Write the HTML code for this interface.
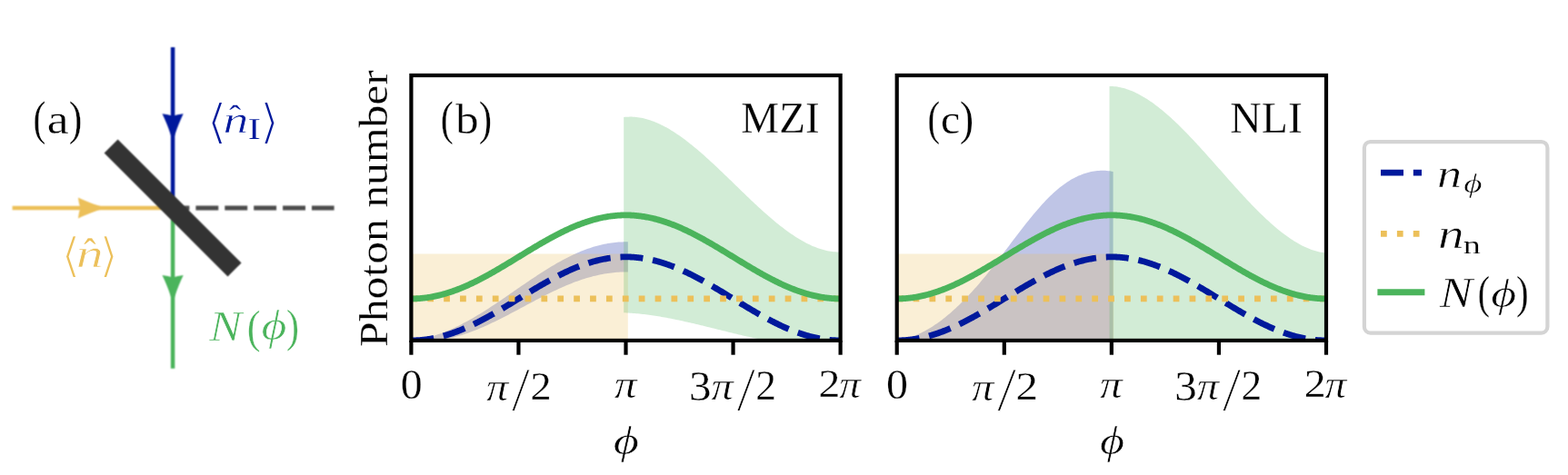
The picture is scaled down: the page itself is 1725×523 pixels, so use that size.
<!DOCTYPE html><html><head><meta charset="utf-8"><title>Photon number MZI NLI</title><style>html,body{margin:0;padding:0;background:#fff;overflow:hidden}svg{display:block}</style></head><body>
<svg width="1725" height="523" viewBox="0 0 1725 523">
<rect width="1725" height="523" fill="#fff"/>
<defs><filter id="soft" color-interpolation-filters="sRGB" filterUnits="userSpaceOnUse" x="0" y="30" width="390" height="400"><feConvolveMatrix order="3" kernelMatrix="1 2 1 2 4 2 1 2 1" divisor="16" edgeMode="none" preserveAlpha="false"/></filter></defs>
<g filter="url(#soft)">
<line x1="13.6" y1="229.00" x2="190.10" y2="229.00" stroke="#ecc05a" stroke-width="4.50"/>
<path d="M85.90,217.60 Q86.50,223.87 88.40,229.00 Q86.50,234.13 85.90,240.40 Q110.20,229.05 122.90,229.00 Q110.20,228.95 85.90,217.60 Z" fill="#ecc05a"/>
<line x1="190.10" y1="51.9" x2="190.10" y2="229.00" stroke="#00199c" stroke-width="4.50"/>
<path d="M178.50,125.30 Q184.88,125.90 190.10,127.80 Q195.32,125.90 201.70,125.30 Q190.15,149.60 190.10,162.30 Q190.05,149.60 178.50,125.30 Z" fill="#00199c"/>
<line x1="190.10" y1="229.00" x2="190.10" y2="405.7" stroke="#4bb45c" stroke-width="4.50"/>
<path d="M178.50,302.90 Q184.88,303.50 190.10,305.40 Q195.32,303.50 201.70,302.90 Q190.15,327.20 190.10,339.90 Q190.05,327.20 178.50,302.90 Z" fill="#4bb45c"/>
<line x1="183.5" y1="229.00" x2="367.6" y2="229.00" stroke="#4d4d4d" stroke-width="5.0" stroke-dasharray="24.9 7.0"/>
<rect x="94.00" y="218.40" width="192.2" height="21.2" fill="#333333" transform="rotate(45 190.10 229.00)"/>
</g>
<clipPath id="clipb"><rect x="452.40" y="83.00" width="472.20" height="291.90"/></clipPath>
<g clip-path="url(#clipb)">
<path d="M449.40,374.90 L452.40,374.90 L454.38,374.67 L456.37,374.40 L458.35,374.10 L460.34,373.77 L462.32,373.41 L464.30,373.01 L466.29,372.59 L468.27,372.13 L470.26,371.64 L472.24,371.12 L474.22,370.57 L476.21,369.99 L478.19,369.38 L480.18,368.75 L482.16,368.08 L484.14,367.38 L486.13,366.65 L488.11,365.90 L490.10,365.12 L492.08,364.31 L494.06,363.47 L496.05,362.61 L498.03,361.72 L500.02,360.80 L502.00,359.86 L503.98,358.90 L505.97,357.91 L507.95,356.90 L509.94,355.87 L511.92,354.81 L513.91,353.74 L515.89,352.64 L517.87,351.52 L519.86,350.38 L521.84,349.23 L523.83,348.05 L525.81,346.86 L527.79,345.65 L529.78,344.43 L531.76,343.19 L533.75,341.94 L535.73,340.67 L537.71,339.39 L539.70,338.10 L541.68,336.80 L543.67,335.48 L545.65,334.16 L547.63,332.83 L549.62,331.49 L551.60,330.15 L553.59,328.79 L555.57,327.44 L557.55,326.07 L559.54,324.71 L561.52,323.34 L563.51,321.97 L565.49,320.60 L567.47,319.23 L569.46,317.85 L571.44,316.49 L573.43,315.12 L575.41,313.76 L577.39,312.40 L579.38,311.04 L581.36,309.69 L583.35,308.35 L585.33,307.02 L587.31,305.69 L589.30,304.38 L591.28,303.07 L593.27,301.78 L595.25,300.50 L597.23,299.23 L599.22,297.97 L601.20,296.73 L603.19,295.50 L605.17,294.29 L607.15,293.10 L609.14,291.92 L611.12,290.76 L613.11,289.62 L615.09,288.51 L617.07,287.41 L619.06,286.33 L621.04,285.27 L623.03,284.24 L625.01,283.23 L626.99,282.24 L628.98,281.28 L630.96,280.35 L632.95,279.44 L634.93,278.55 L636.92,277.70 L638.90,276.87 L640.88,276.07 L642.87,275.29 L644.85,274.55 L646.84,273.83 L648.82,273.15 L650.80,272.50 L652.79,271.87 L654.77,271.28 L656.76,270.72 L658.74,270.20 L660.72,269.70 L662.71,269.24 L664.69,268.81 L666.68,268.41 L668.66,268.05 L670.64,267.72 L672.63,267.43 L674.61,267.17 L676.60,266.94 L678.58,266.75 L680.56,266.59 L682.55,266.47 L684.53,266.38 L686.52,266.33 L688.50,266.31 L690.80,266.31 L690.80,299.49 L688.50,299.49 L686.52,299.50 L684.53,299.55 L682.55,299.62 L680.56,299.72 L678.58,299.85 L676.60,300.01 L674.61,300.20 L672.63,300.42 L670.64,300.66 L668.66,300.94 L666.68,301.24 L664.69,301.57 L662.71,301.93 L660.72,302.31 L658.74,302.72 L656.76,303.16 L654.77,303.63 L652.79,304.12 L650.80,304.64 L648.82,305.18 L646.84,305.75 L644.85,306.34 L642.87,306.95 L640.88,307.59 L638.90,308.25 L636.92,308.94 L634.93,309.65 L632.95,310.37 L630.96,311.12 L628.98,311.89 L626.99,312.68 L625.01,313.49 L623.03,314.32 L621.04,315.17 L619.06,316.03 L617.07,316.91 L615.09,317.80 L613.11,318.72 L611.12,319.64 L609.14,320.58 L607.15,321.53 L605.17,322.50 L603.19,323.48 L601.20,324.47 L599.22,325.47 L597.23,326.47 L595.25,327.49 L593.27,328.52 L591.28,329.55 L589.30,330.59 L587.31,331.63 L585.33,332.68 L583.35,333.74 L581.36,334.79 L579.38,335.85 L577.39,336.91 L575.41,337.98 L573.43,339.04 L571.44,340.10 L569.46,341.16 L567.47,342.22 L565.49,343.27 L563.51,344.32 L561.52,345.36 L559.54,346.40 L557.55,347.44 L555.57,348.46 L553.59,349.48 L551.60,350.49 L549.62,351.49 L547.63,352.47 L545.65,353.45 L543.67,354.41 L541.68,355.37 L539.70,356.30 L537.71,357.23 L535.73,358.14 L533.75,359.03 L531.76,359.91 L529.78,360.77 L527.79,361.61 L525.81,362.43 L523.83,363.23 L521.84,364.02 L519.86,364.78 L517.87,365.52 L515.89,366.24 L513.91,366.94 L511.92,367.61 L509.94,368.26 L507.95,368.89 L505.97,369.49 L503.98,370.06 L502.00,370.62 L500.02,371.14 L498.03,371.64 L496.05,372.11 L494.06,372.55 L492.08,372.96 L490.10,373.35 L488.11,373.71 L486.13,374.04 L484.14,374.33 L482.16,374.60 L480.18,374.84 L478.19,375.05 L476.21,375.23 L474.22,375.37 L472.24,375.49 L470.26,375.57 L468.27,375.63 L466.29,375.65 L464.30,375.64 L462.32,375.59 L460.34,375.52 L458.35,375.41 L456.37,375.27 L454.38,375.10 L452.40,374.90 L449.40,374.90 Z" fill="#00199c" fill-opacity="0.250"/>
<path d="M449.40,279.60 H690.80 V384.90 H449.40 Z" fill="#ecc05a" fill-opacity="0.250"/>
<path d="M686.20,129.05 L687.94,128.86 L689.67,128.72 L691.41,128.63 L693.15,128.60 L694.88,128.62 L696.62,128.68 L698.36,128.80 L700.09,128.97 L701.83,129.18 L703.57,129.44 L705.30,129.75 L707.04,130.10 L708.78,130.50 L710.51,130.94 L712.25,131.43 L713.99,131.96 L715.72,132.53 L717.46,133.14 L719.20,133.79 L720.93,134.48 L722.67,135.21 L724.41,135.98 L726.14,136.79 L727.88,137.63 L729.62,138.51 L731.35,139.42 L733.09,140.37 L734.83,141.35 L736.56,142.36 L738.30,143.41 L740.04,144.48 L741.77,145.59 L743.51,146.72 L745.25,147.89 L746.98,149.08 L748.72,150.30 L750.46,151.55 L752.19,152.82 L753.93,154.12 L755.67,155.44 L757.40,156.78 L759.14,158.15 L760.88,159.54 L762.61,160.95 L764.35,162.38 L766.09,163.83 L767.82,165.30 L769.56,166.79 L771.30,168.29 L773.03,169.81 L774.77,171.35 L776.51,172.90 L778.24,174.47 L779.98,176.04 L781.72,177.64 L783.45,179.24 L785.19,180.85 L786.93,182.48 L788.66,184.11 L790.40,185.75 L792.14,187.40 L793.87,189.06 L795.61,190.73 L797.35,192.40 L799.08,194.07 L800.82,195.75 L802.56,197.43 L804.29,199.12 L806.03,200.80 L807.77,202.49 L809.51,204.18 L811.24,205.87 L812.98,207.55 L814.72,209.24 L816.45,210.92 L818.19,212.60 L819.93,214.27 L821.66,215.94 L823.40,217.60 L825.14,219.26 L826.87,220.90 L828.61,222.54 L830.35,224.17 L832.08,225.80 L833.82,227.41 L835.56,229.01 L837.29,230.59 L839.03,232.17 L840.77,233.73 L842.50,235.27 L844.24,236.81 L845.98,238.32 L847.71,239.82 L849.45,241.30 L851.19,242.76 L852.92,244.21 L854.66,245.63 L856.40,247.03 L858.13,248.42 L859.87,249.78 L861.61,251.11 L863.34,252.43 L865.08,253.72 L866.82,254.98 L868.55,256.22 L870.29,257.43 L872.03,258.61 L873.76,259.77 L875.50,260.90 L877.24,261.99 L878.97,263.06 L880.71,264.09 L882.45,265.09 L884.18,266.06 L885.92,267.00 L887.66,267.90 L889.39,268.77 L891.13,269.60 L892.87,270.39 L894.60,271.15 L896.34,271.87 L898.08,272.54 L899.81,273.18 L901.55,273.78 L903.29,274.34 L905.02,274.85 L906.76,275.32 L908.50,275.75 L910.23,276.14 L911.97,276.47 L913.71,276.77 L915.44,277.01 L917.18,277.21 L918.92,277.36 L920.65,277.46 L922.39,277.51 L924.13,277.51 L925.86,277.46 L927.60,277.36 L927.60,379.52 L925.86,379.74 L924.13,379.94 L922.39,380.13 L920.65,380.30 L918.92,380.46 L917.18,380.60 L915.44,380.72 L913.71,380.83 L911.97,380.92 L910.23,381.00 L908.50,381.07 L906.76,381.12 L905.02,381.15 L903.29,381.18 L901.55,381.19 L899.81,381.18 L898.08,381.16 L896.34,381.13 L894.60,381.09 L892.87,381.03 L891.13,380.96 L889.39,380.88 L887.66,380.79 L885.92,380.69 L884.18,380.57 L882.45,380.44 L880.71,380.30 L878.97,380.15 L877.24,379.99 L875.50,379.82 L873.76,379.64 L872.03,379.45 L870.29,379.25 L868.55,379.04 L866.82,378.82 L865.08,378.59 L863.34,378.35 L861.61,378.10 L859.87,377.85 L858.13,377.58 L856.40,377.31 L854.66,377.03 L852.92,376.74 L851.19,376.44 L849.45,376.14 L847.71,375.83 L845.98,375.51 L844.24,375.19 L842.50,374.85 L840.77,374.52 L839.03,374.17 L837.29,373.82 L835.56,373.47 L833.82,373.11 L832.08,372.74 L830.35,372.37 L828.61,371.99 L826.87,371.61 L825.14,371.23 L823.40,370.84 L821.66,370.44 L819.93,370.04 L818.19,369.64 L816.45,369.24 L814.72,368.83 L812.98,368.42 L811.24,368.00 L809.51,367.59 L807.77,367.17 L806.03,366.75 L804.29,366.32 L802.56,365.90 L800.82,365.47 L799.08,365.05 L797.35,364.62 L795.61,364.19 L793.87,363.76 L792.14,363.32 L790.40,362.89 L788.66,362.46 L786.93,362.03 L785.19,361.60 L783.45,361.17 L781.72,360.74 L779.98,360.31 L778.24,359.88 L776.51,359.45 L774.77,359.03 L773.03,358.61 L771.30,358.19 L769.56,357.77 L767.82,357.35 L766.09,356.94 L764.35,356.52 L762.61,356.12 L760.88,355.71 L759.14,355.31 L757.40,354.91 L755.67,354.52 L753.93,354.13 L752.19,353.74 L750.46,353.36 L748.72,352.98 L746.98,352.61 L745.25,352.24 L743.51,351.88 L741.77,351.53 L740.04,351.18 L738.30,350.83 L736.56,350.49 L734.83,350.16 L733.09,349.84 L731.35,349.52 L729.62,349.21 L727.88,348.90 L726.14,348.61 L724.41,348.32 L722.67,348.04 L720.93,347.76 L719.20,347.50 L717.46,347.24 L715.72,346.99 L713.99,346.75 L712.25,346.52 L710.51,346.30 L708.78,346.09 L707.04,345.89 L705.30,345.70 L703.57,345.51 L701.83,345.34 L700.09,345.18 L698.36,345.03 L696.62,344.89 L694.88,344.76 L693.15,344.65 L691.41,344.54 L689.67,344.45 L687.94,344.37 L686.20,344.30 Z" fill="#4bb45c" fill-opacity="0.250"/>
<polyline points="452.40,374.90 453.58,374.89 454.77,374.88 455.95,374.85 457.13,374.81 458.32,374.76 459.50,374.69 460.68,374.62 461.87,374.54 463.05,374.44 464.23,374.33 465.42,374.21 466.60,374.08 467.78,373.94 468.97,373.79 470.15,373.62 471.34,373.45 472.52,373.26 473.70,373.06 474.89,372.86 476.07,372.64 477.25,372.41 478.44,372.17 479.62,371.92 480.80,371.65 481.99,371.38 483.17,371.10 484.35,370.80 485.54,370.50 486.72,370.19 487.90,369.86 489.09,369.53 490.27,369.18 491.45,368.83 492.64,368.46 493.82,368.09 495.00,367.70 496.19,367.31 497.37,366.91 498.55,366.49 499.74,366.07 500.92,365.64 502.11,365.20 503.29,364.75 504.47,364.29 505.66,363.83 506.84,363.35 508.02,362.87 509.21,362.37 510.39,361.87 511.57,361.36 512.76,360.85 513.94,360.32 515.12,359.79 516.31,359.25 517.49,358.70 518.67,358.14 519.86,357.58 521.04,357.01 522.22,356.43 523.41,355.85 524.59,355.26 525.77,354.66 526.96,354.06 528.14,353.45 529.32,352.83 530.51,352.21 531.69,351.59 532.88,350.95 534.06,350.31 535.24,349.67 536.43,349.02 537.61,348.37 538.79,347.71 539.98,347.05 541.16,346.38 542.34,345.71 543.53,345.03 544.71,344.35 545.89,343.66 547.08,342.98 548.26,342.29 549.44,341.59 550.63,340.89 551.81,340.19 552.99,339.49 554.18,338.78 555.36,338.07 556.54,337.36 557.73,336.65 558.91,335.93 560.09,335.22 561.28,334.50 562.46,333.78 563.65,333.06 564.83,332.34 566.01,331.61 567.20,330.89 568.38,330.17 569.56,329.44 570.75,328.72 571.93,327.99 573.11,327.27 574.30,326.55 575.48,325.82 576.66,325.10 577.85,324.38 579.03,323.66 580.21,322.94 581.40,322.22 582.58,321.51 583.76,320.79 584.95,320.08 586.13,319.37 587.31,318.66 588.50,317.96 589.68,317.26 590.86,316.56 592.05,315.86 593.23,315.17 594.42,314.48 595.60,313.79 596.78,313.11 597.97,312.43 599.15,311.76 600.33,311.09 601.52,310.42 602.70,309.76 603.88,309.10 605.07,308.45 606.25,307.81 607.43,307.17 608.62,306.53 609.80,305.90 610.98,305.28 612.17,304.66 613.35,304.04 614.53,303.44 615.72,302.84 616.90,302.24 618.08,301.66 619.27,301.08 620.45,300.50 621.63,299.94 622.82,299.38 624.00,298.83 625.18,298.28 626.37,297.75 627.55,297.22 628.74,296.69 629.92,296.18 631.10,295.68 632.29,295.18 633.47,294.69 634.65,294.21 635.84,293.74 637.02,293.28 638.20,292.82 639.39,292.38 640.57,291.94 641.75,291.52 642.94,291.10 644.12,290.69 645.30,290.29 646.49,289.90 647.67,289.52 648.85,289.15 650.04,288.79 651.22,288.44 652.40,288.10 653.59,287.77 654.77,287.46 655.95,287.15 657.14,286.85 658.32,286.56 659.51,286.28 660.69,286.01 661.87,285.76 663.06,285.51 664.24,285.28 665.42,285.05 666.61,284.84 667.79,284.64 668.97,284.44 670.16,284.26 671.34,284.09 672.52,283.94 673.71,283.79 674.89,283.65 676.07,283.53 677.26,283.41 678.44,283.31 679.62,283.22 680.81,283.14 681.99,283.07 683.17,283.02 684.36,282.97 685.54,282.94 686.72,282.91 687.91,282.90 689.09,282.90 690.28,282.91 691.46,282.94 692.64,282.97 693.83,283.02 695.01,283.07 696.19,283.14 697.38,283.22 698.56,283.31 699.74,283.41 700.93,283.53 702.11,283.65 703.29,283.79 704.48,283.94 705.66,284.09 706.84,284.26 708.03,284.44 709.21,284.64 710.39,284.84 711.58,285.05 712.76,285.28 713.94,285.51 715.13,285.76 716.31,286.01 717.49,286.28 718.68,286.56 719.86,286.85 721.05,287.15 722.23,287.46 723.41,287.77 724.60,288.10 725.78,288.44 726.96,288.79 728.15,289.15 729.33,289.52 730.51,289.90 731.70,290.29 732.88,290.69 734.06,291.10 735.25,291.52 736.43,291.94 737.61,292.38 738.80,292.82 739.98,293.28 741.16,293.74 742.35,294.21 743.53,294.69 744.71,295.18 745.90,295.68 747.08,296.18 748.26,296.69 749.45,297.22 750.63,297.75 751.82,298.28 753.00,298.83 754.18,299.38 755.37,299.94 756.55,300.50 757.73,301.08 758.92,301.66 760.10,302.24 761.28,302.84 762.47,303.44 763.65,304.04 764.83,304.66 766.02,305.28 767.20,305.90 768.38,306.53 769.57,307.17 770.75,307.81 771.93,308.45 773.12,309.10 774.30,309.76 775.48,310.42 776.67,311.09 777.85,311.76 779.03,312.43 780.22,313.11 781.40,313.79 782.58,314.48 783.77,315.17 784.95,315.86 786.14,316.56 787.32,317.26 788.50,317.96 789.69,318.66 790.87,319.37 792.05,320.08 793.24,320.79 794.42,321.51 795.60,322.22 796.79,322.94 797.97,323.66 799.15,324.38 800.34,325.10 801.52,325.82 802.70,326.55 803.89,327.27 805.07,327.99 806.25,328.72 807.44,329.44 808.62,330.17 809.80,330.89 810.99,331.61 812.17,332.34 813.35,333.06 814.54,333.78 815.72,334.50 816.91,335.22 818.09,335.93 819.27,336.65 820.46,337.36 821.64,338.07 822.82,338.78 824.01,339.49 825.19,340.19 826.37,340.89 827.56,341.59 828.74,342.29 829.92,342.98 831.11,343.66 832.29,344.35 833.47,345.03 834.66,345.71 835.84,346.38 837.02,347.05 838.21,347.71 839.39,348.37 840.57,349.02 841.76,349.67 842.94,350.31 844.12,350.95 845.31,351.59 846.49,352.21 847.68,352.83 848.86,353.45 850.04,354.06 851.23,354.66 852.41,355.26 853.59,355.85 854.78,356.43 855.96,357.01 857.14,357.58 858.33,358.14 859.51,358.70 860.69,359.25 861.88,359.79 863.06,360.32 864.24,360.85 865.43,361.36 866.61,361.87 867.79,362.37 868.98,362.87 870.16,363.35 871.34,363.83 872.53,364.29 873.71,364.75 874.89,365.20 876.08,365.64 877.26,366.07 878.45,366.49 879.63,366.91 880.81,367.31 882.00,367.70 883.18,368.09 884.36,368.46 885.55,368.83 886.73,369.18 887.91,369.53 889.10,369.86 890.28,370.19 891.46,370.50 892.65,370.80 893.83,371.10 895.01,371.38 896.20,371.65 897.38,371.92 898.56,372.17 899.75,372.41 900.93,372.64 902.11,372.86 903.30,373.06 904.48,373.26 905.66,373.45 906.85,373.62 908.03,373.79 909.22,373.94 910.40,374.08 911.58,374.21 912.77,374.33 913.95,374.44 915.13,374.54 916.32,374.62 917.50,374.69 918.68,374.76 919.87,374.81 921.05,374.85 922.23,374.88 923.42,374.89 924.60,374.90" fill="none" stroke="#00199c" stroke-width="6.80" stroke-dasharray="25.0 10.83" stroke-linejoin="round"/>
<line x1="452.40" y1="328.90" x2="924.60" y2="328.90" stroke="#ecc05a" stroke-width="6.80" stroke-dasharray="6.76 11.12"/>
<polyline points="452.40,328.90 453.58,328.89 454.77,328.88 455.95,328.85 457.13,328.81 458.32,328.76 459.50,328.69 460.68,328.62 461.87,328.54 463.05,328.44 464.23,328.33 465.42,328.21 466.60,328.08 467.78,327.94 468.97,327.79 470.15,327.62 471.34,327.45 472.52,327.26 473.70,327.06 474.89,326.86 476.07,326.64 477.25,326.41 478.44,326.17 479.62,325.92 480.80,325.65 481.99,325.38 483.17,325.10 484.35,324.80 485.54,324.50 486.72,324.19 487.90,323.86 489.09,323.53 490.27,323.18 491.45,322.83 492.64,322.46 493.82,322.09 495.00,321.70 496.19,321.31 497.37,320.91 498.55,320.49 499.74,320.07 500.92,319.64 502.11,319.20 503.29,318.75 504.47,318.29 505.66,317.83 506.84,317.35 508.02,316.87 509.21,316.37 510.39,315.87 511.57,315.36 512.76,314.85 513.94,314.32 515.12,313.79 516.31,313.25 517.49,312.70 518.67,312.14 519.86,311.58 521.04,311.01 522.22,310.43 523.41,309.85 524.59,309.26 525.77,308.66 526.96,308.06 528.14,307.45 529.32,306.83 530.51,306.21 531.69,305.59 532.88,304.95 534.06,304.31 535.24,303.67 536.43,303.02 537.61,302.37 538.79,301.71 539.98,301.05 541.16,300.38 542.34,299.71 543.53,299.03 544.71,298.35 545.89,297.66 547.08,296.98 548.26,296.29 549.44,295.59 550.63,294.89 551.81,294.19 552.99,293.49 554.18,292.78 555.36,292.07 556.54,291.36 557.73,290.65 558.91,289.93 560.09,289.22 561.28,288.50 562.46,287.78 563.65,287.06 564.83,286.34 566.01,285.61 567.20,284.89 568.38,284.17 569.56,283.44 570.75,282.72 571.93,281.99 573.11,281.27 574.30,280.55 575.48,279.82 576.66,279.10 577.85,278.38 579.03,277.66 580.21,276.94 581.40,276.22 582.58,275.51 583.76,274.79 584.95,274.08 586.13,273.37 587.31,272.66 588.50,271.96 589.68,271.26 590.86,270.56 592.05,269.86 593.23,269.17 594.42,268.48 595.60,267.79 596.78,267.11 597.97,266.43 599.15,265.76 600.33,265.09 601.52,264.42 602.70,263.76 603.88,263.10 605.07,262.45 606.25,261.81 607.43,261.17 608.62,260.53 609.80,259.90 610.98,259.28 612.17,258.66 613.35,258.04 614.53,257.44 615.72,256.84 616.90,256.24 618.08,255.66 619.27,255.08 620.45,254.50 621.63,253.94 622.82,253.38 624.00,252.83 625.18,252.28 626.37,251.75 627.55,251.22 628.74,250.69 629.92,250.18 631.10,249.68 632.29,249.18 633.47,248.69 634.65,248.21 635.84,247.74 637.02,247.28 638.20,246.82 639.39,246.38 640.57,245.94 641.75,245.52 642.94,245.10 644.12,244.69 645.30,244.29 646.49,243.90 647.67,243.52 648.85,243.15 650.04,242.79 651.22,242.44 652.40,242.10 653.59,241.77 654.77,241.46 655.95,241.15 657.14,240.85 658.32,240.56 659.51,240.28 660.69,240.01 661.87,239.76 663.06,239.51 664.24,239.28 665.42,239.05 666.61,238.84 667.79,238.64 668.97,238.44 670.16,238.26 671.34,238.09 672.52,237.94 673.71,237.79 674.89,237.65 676.07,237.53 677.26,237.41 678.44,237.31 679.62,237.22 680.81,237.14 681.99,237.07 683.17,237.02 684.36,236.97 685.54,236.94 686.72,236.91 687.91,236.90 689.09,236.90 690.28,236.91 691.46,236.94 692.64,236.97 693.83,237.02 695.01,237.07 696.19,237.14 697.38,237.22 698.56,237.31 699.74,237.41 700.93,237.53 702.11,237.65 703.29,237.79 704.48,237.94 705.66,238.09 706.84,238.26 708.03,238.44 709.21,238.64 710.39,238.84 711.58,239.05 712.76,239.28 713.94,239.51 715.13,239.76 716.31,240.01 717.49,240.28 718.68,240.56 719.86,240.85 721.05,241.15 722.23,241.46 723.41,241.77 724.60,242.10 725.78,242.44 726.96,242.79 728.15,243.15 729.33,243.52 730.51,243.90 731.70,244.29 732.88,244.69 734.06,245.10 735.25,245.52 736.43,245.94 737.61,246.38 738.80,246.82 739.98,247.28 741.16,247.74 742.35,248.21 743.53,248.69 744.71,249.18 745.90,249.68 747.08,250.18 748.26,250.69 749.45,251.22 750.63,251.75 751.82,252.28 753.00,252.83 754.18,253.38 755.37,253.94 756.55,254.50 757.73,255.08 758.92,255.66 760.10,256.24 761.28,256.84 762.47,257.44 763.65,258.04 764.83,258.66 766.02,259.28 767.20,259.90 768.38,260.53 769.57,261.17 770.75,261.81 771.93,262.45 773.12,263.10 774.30,263.76 775.48,264.42 776.67,265.09 777.85,265.76 779.03,266.43 780.22,267.11 781.40,267.79 782.58,268.48 783.77,269.17 784.95,269.86 786.14,270.56 787.32,271.26 788.50,271.96 789.69,272.66 790.87,273.37 792.05,274.08 793.24,274.79 794.42,275.51 795.60,276.22 796.79,276.94 797.97,277.66 799.15,278.38 800.34,279.10 801.52,279.82 802.70,280.55 803.89,281.27 805.07,281.99 806.25,282.72 807.44,283.44 808.62,284.17 809.80,284.89 810.99,285.61 812.17,286.34 813.35,287.06 814.54,287.78 815.72,288.50 816.91,289.22 818.09,289.93 819.27,290.65 820.46,291.36 821.64,292.07 822.82,292.78 824.01,293.49 825.19,294.19 826.37,294.89 827.56,295.59 828.74,296.29 829.92,296.98 831.11,297.66 832.29,298.35 833.47,299.03 834.66,299.71 835.84,300.38 837.02,301.05 838.21,301.71 839.39,302.37 840.57,303.02 841.76,303.67 842.94,304.31 844.12,304.95 845.31,305.59 846.49,306.21 847.68,306.83 848.86,307.45 850.04,308.06 851.23,308.66 852.41,309.26 853.59,309.85 854.78,310.43 855.96,311.01 857.14,311.58 858.33,312.14 859.51,312.70 860.69,313.25 861.88,313.79 863.06,314.32 864.24,314.85 865.43,315.36 866.61,315.87 867.79,316.37 868.98,316.87 870.16,317.35 871.34,317.83 872.53,318.29 873.71,318.75 874.89,319.20 876.08,319.64 877.26,320.07 878.45,320.49 879.63,320.91 880.81,321.31 882.00,321.70 883.18,322.09 884.36,322.46 885.55,322.83 886.73,323.18 887.91,323.53 889.10,323.86 890.28,324.19 891.46,324.50 892.65,324.80 893.83,325.10 895.01,325.38 896.20,325.65 897.38,325.92 898.56,326.17 899.75,326.41 900.93,326.64 902.11,326.86 903.30,327.06 904.48,327.26 905.66,327.45 906.85,327.62 908.03,327.79 909.22,327.94 910.40,328.08 911.58,328.21 912.77,328.33 913.95,328.44 915.13,328.54 916.32,328.62 917.50,328.69 918.68,328.76 919.87,328.81 921.05,328.85 922.23,328.88 923.42,328.89 924.60,328.90" fill="none" stroke="#4bb45c" stroke-width="6.80" stroke-linejoin="round"/>
</g>
<rect x="452.40" y="83.00" width="472.20" height="291.90" fill="none" stroke="#000" stroke-width="4.20" stroke-linejoin="miter"/>
<line x1="452.40" y1="374.90" x2="452.40" y2="390.70" stroke="#000" stroke-width="4.20"/>
<line x1="570.45" y1="374.90" x2="570.45" y2="390.70" stroke="#000" stroke-width="4.20"/>
<line x1="688.50" y1="374.90" x2="688.50" y2="390.70" stroke="#000" stroke-width="4.20"/>
<line x1="806.55" y1="374.90" x2="806.55" y2="390.70" stroke="#000" stroke-width="4.20"/>
<line x1="924.60" y1="374.90" x2="924.60" y2="390.70" stroke="#000" stroke-width="4.20"/>
<clipPath id="clipc"><rect x="986.70" y="83.00" width="472.30" height="291.90"/></clipPath>
<g clip-path="url(#clipc)">
<path d="M984.00,374.31 L985.73,374.20 L987.46,374.05 L989.19,373.85 L990.92,373.61 L992.65,373.31 L994.39,372.98 L996.12,372.60 L997.85,372.17 L999.58,371.70 L1001.31,371.18 L1003.04,370.63 L1004.77,370.03 L1006.50,369.38 L1008.23,368.70 L1009.96,367.97 L1011.69,367.20 L1013.43,366.39 L1015.16,365.55 L1016.89,364.66 L1018.62,363.73 L1020.35,362.76 L1022.08,361.76 L1023.81,360.71 L1025.54,359.63 L1027.27,358.51 L1029.00,357.36 L1030.74,356.17 L1032.47,354.94 L1034.20,353.68 L1035.93,352.38 L1037.66,351.05 L1039.39,349.68 L1041.12,348.28 L1042.85,346.85 L1044.58,345.38 L1046.31,343.89 L1048.04,342.36 L1049.78,340.79 L1051.51,339.20 L1053.24,337.58 L1054.97,335.93 L1056.70,334.24 L1058.43,332.53 L1060.16,330.79 L1061.89,329.02 L1063.62,327.22 L1065.35,325.40 L1067.08,323.55 L1068.82,321.67 L1070.55,319.76 L1072.28,317.83 L1074.01,315.88 L1075.74,313.90 L1077.47,311.89 L1079.20,309.86 L1080.93,307.81 L1082.66,305.73 L1084.39,303.64 L1086.13,301.51 L1087.86,299.37 L1089.59,297.21 L1091.32,295.03 L1093.05,292.82 L1094.78,290.60 L1096.51,288.37 L1098.24,286.12 L1099.97,283.86 L1101.70,281.59 L1103.43,279.32 L1105.17,277.03 L1106.90,274.74 L1108.63,272.45 L1110.36,270.16 L1112.09,267.87 L1113.82,265.58 L1115.55,263.29 L1117.28,261.01 L1119.01,258.74 L1120.74,256.48 L1122.47,254.22 L1124.21,251.98 L1125.94,249.76 L1127.67,247.55 L1129.40,245.36 L1131.13,243.19 L1132.86,241.04 L1134.59,238.91 L1136.32,236.81 L1138.05,234.74 L1139.78,232.69 L1141.52,230.67 L1143.25,228.69 L1144.98,226.74 L1146.71,224.82 L1148.44,222.94 L1150.17,221.10 L1151.90,219.30 L1153.63,217.55 L1155.36,215.83 L1157.09,214.17 L1158.82,212.55 L1160.56,210.98 L1162.29,209.46 L1164.02,207.99 L1165.75,206.58 L1167.48,205.21 L1169.21,203.90 L1170.94,202.64 L1172.67,201.43 L1174.40,200.28 L1176.13,199.17 L1177.86,198.12 L1179.60,197.12 L1181.33,196.16 L1183.06,195.27 L1184.79,194.42 L1186.52,193.62 L1188.25,192.88 L1189.98,192.18 L1191.71,191.54 L1193.44,190.95 L1195.17,190.40 L1196.91,189.91 L1198.64,189.47 L1200.37,189.09 L1202.10,188.75 L1203.83,188.46 L1205.56,188.22 L1207.29,188.04 L1209.02,187.90 L1210.75,187.82 L1212.48,187.78 L1214.21,187.80 L1215.95,187.86 L1217.68,187.98 L1219.41,188.14 L1221.14,188.36 L1222.87,188.63 L1224.60,188.94 L1224.60,384.90 L1222.87,384.90 L1221.14,384.90 L1219.41,384.90 L1217.68,384.90 L1215.95,384.90 L1214.21,384.90 L1212.48,384.90 L1210.75,384.90 L1209.02,384.90 L1207.29,384.90 L1205.56,384.90 L1203.83,384.90 L1202.10,384.90 L1200.37,384.90 L1198.64,384.90 L1196.91,384.90 L1195.17,384.90 L1193.44,384.90 L1191.71,384.90 L1189.98,384.90 L1188.25,384.90 L1186.52,384.90 L1184.79,384.90 L1183.06,384.90 L1181.33,384.90 L1179.60,384.90 L1177.86,384.90 L1176.13,384.90 L1174.40,384.90 L1172.67,384.90 L1170.94,384.90 L1169.21,384.90 L1167.48,384.90 L1165.75,384.90 L1164.02,384.90 L1162.29,384.90 L1160.56,384.90 L1158.82,384.90 L1157.09,384.90 L1155.36,384.90 L1153.63,384.90 L1151.90,384.90 L1150.17,384.90 L1148.44,384.90 L1146.71,384.90 L1144.98,384.90 L1143.25,384.90 L1141.52,384.90 L1139.78,384.90 L1138.05,384.90 L1136.32,384.90 L1134.59,384.90 L1132.86,384.90 L1131.13,384.90 L1129.40,384.90 L1127.67,384.90 L1125.94,384.90 L1124.21,384.90 L1122.47,384.90 L1120.74,384.90 L1119.01,384.90 L1117.28,384.90 L1115.55,384.90 L1113.82,384.90 L1112.09,384.90 L1110.36,384.90 L1108.63,384.90 L1106.90,384.90 L1105.17,384.90 L1103.43,384.90 L1101.70,384.90 L1099.97,384.90 L1098.24,384.90 L1096.51,384.90 L1094.78,384.90 L1093.05,384.90 L1091.32,384.90 L1089.59,384.90 L1087.86,384.90 L1086.13,384.90 L1084.39,384.90 L1082.66,384.90 L1080.93,384.90 L1079.20,384.90 L1077.47,384.90 L1075.74,384.90 L1074.01,384.90 L1072.28,384.90 L1070.55,384.90 L1068.82,384.90 L1067.08,384.90 L1065.35,384.90 L1063.62,384.90 L1061.89,384.90 L1060.16,384.90 L1058.43,384.90 L1056.70,384.90 L1054.97,384.90 L1053.24,384.90 L1051.51,384.90 L1049.78,384.90 L1048.04,384.90 L1046.31,384.90 L1044.58,384.90 L1042.85,384.90 L1041.12,384.90 L1039.39,384.90 L1037.66,384.90 L1035.93,384.90 L1034.20,384.90 L1032.47,384.90 L1030.74,384.90 L1029.00,384.90 L1027.27,384.90 L1025.54,384.90 L1023.81,384.90 L1022.08,384.90 L1020.35,384.90 L1018.62,384.90 L1016.89,384.90 L1015.16,384.90 L1013.43,384.90 L1011.69,384.90 L1009.96,384.90 L1008.23,384.90 L1006.50,384.90 L1004.77,384.90 L1003.04,384.90 L1001.31,384.90 L999.58,384.90 L997.85,384.90 L996.12,384.90 L994.39,384.90 L992.65,384.90 L990.92,384.90 L989.19,384.90 L987.46,384.90 L985.73,384.90 L984.00,384.90 Z" fill="#00199c" fill-opacity="0.250"/>
<path d="M983.70,279.60 H1225.15 V384.90 H983.70 Z" fill="#ecc05a" fill-opacity="0.250"/>
<path d="M1220.55,94.88 L1222.29,94.91 L1224.02,95.00 L1225.76,95.15 L1227.50,95.35 L1229.24,95.60 L1230.97,95.90 L1232.71,96.26 L1234.45,96.66 L1236.18,97.12 L1237.92,97.62 L1239.66,98.17 L1241.39,98.77 L1243.13,99.41 L1244.87,100.11 L1246.61,100.84 L1248.34,101.62 L1250.08,102.44 L1251.82,103.31 L1253.55,104.21 L1255.29,105.16 L1257.03,106.15 L1258.77,107.18 L1260.50,108.24 L1262.24,109.34 L1263.98,110.48 L1265.71,111.66 L1267.45,112.87 L1269.19,114.11 L1270.92,115.39 L1272.66,116.70 L1274.40,118.05 L1276.14,119.42 L1277.87,120.83 L1279.61,122.26 L1281.35,123.73 L1283.08,125.22 L1284.82,126.74 L1286.56,128.28 L1288.29,129.85 L1290.03,131.45 L1291.77,133.07 L1293.51,134.71 L1295.24,136.37 L1296.98,138.06 L1298.72,139.77 L1300.45,141.49 L1302.19,143.24 L1303.93,145.01 L1305.67,146.79 L1307.40,148.59 L1309.14,150.40 L1310.88,152.23 L1312.61,154.08 L1314.35,155.94 L1316.09,157.81 L1317.82,159.69 L1319.56,161.59 L1321.30,163.49 L1323.04,165.41 L1324.77,167.33 L1326.51,169.26 L1328.25,171.20 L1329.98,173.14 L1331.72,175.09 L1333.46,177.05 L1335.20,179.01 L1336.93,180.97 L1338.67,182.93 L1340.41,184.90 L1342.14,186.87 L1343.88,188.84 L1345.62,190.80 L1347.35,192.77 L1349.09,194.73 L1350.83,196.69 L1352.57,198.64 L1354.30,200.59 L1356.04,202.54 L1357.78,204.48 L1359.51,206.41 L1361.25,208.33 L1362.99,210.24 L1364.73,212.15 L1366.46,214.04 L1368.20,215.92 L1369.94,217.80 L1371.67,219.65 L1373.41,221.50 L1375.15,223.33 L1376.88,225.14 L1378.62,226.94 L1380.36,228.72 L1382.10,230.49 L1383.83,232.23 L1385.57,233.96 L1387.31,235.67 L1389.04,237.35 L1390.78,239.02 L1392.52,240.66 L1394.26,242.28 L1395.99,243.87 L1397.73,245.44 L1399.47,246.99 L1401.20,248.50 L1402.94,249.99 L1404.68,251.46 L1406.41,252.89 L1408.15,254.29 L1409.89,255.67 L1411.63,257.01 L1413.36,258.32 L1415.10,259.60 L1416.84,260.84 L1418.57,262.05 L1420.31,263.23 L1422.05,264.36 L1423.78,265.47 L1425.52,266.53 L1427.26,267.55 L1429.00,268.54 L1430.73,269.49 L1432.47,270.39 L1434.21,271.26 L1435.94,272.08 L1437.68,272.85 L1439.42,273.59 L1441.16,274.28 L1442.89,274.92 L1444.63,275.52 L1446.37,276.07 L1448.10,276.57 L1449.84,277.02 L1451.58,277.43 L1453.31,277.78 L1455.05,278.08 L1456.79,278.33 L1458.53,278.53 L1460.26,278.67 L1462.00,278.76 L1462.00,384.90 L1460.26,384.90 L1458.53,384.90 L1456.79,384.90 L1455.05,384.90 L1453.31,384.90 L1451.58,384.90 L1449.84,384.90 L1448.10,384.90 L1446.37,384.90 L1444.63,384.90 L1442.89,384.90 L1441.16,384.90 L1439.42,384.90 L1437.68,384.90 L1435.94,384.90 L1434.21,384.90 L1432.47,384.90 L1430.73,384.90 L1429.00,384.90 L1427.26,384.90 L1425.52,384.90 L1423.78,384.90 L1422.05,384.90 L1420.31,384.90 L1418.57,384.90 L1416.84,384.90 L1415.10,384.90 L1413.36,384.90 L1411.63,384.90 L1409.89,384.90 L1408.15,384.90 L1406.41,384.90 L1404.68,384.90 L1402.94,384.90 L1401.20,384.90 L1399.47,384.90 L1397.73,384.90 L1395.99,384.90 L1394.26,384.90 L1392.52,384.90 L1390.78,384.90 L1389.04,384.90 L1387.31,384.90 L1385.57,384.90 L1383.83,384.90 L1382.10,384.90 L1380.36,384.90 L1378.62,384.90 L1376.88,384.90 L1375.15,384.90 L1373.41,384.90 L1371.67,384.90 L1369.94,384.90 L1368.20,384.90 L1366.46,384.90 L1364.73,384.90 L1362.99,384.90 L1361.25,384.90 L1359.51,384.90 L1357.78,384.90 L1356.04,384.90 L1354.30,384.90 L1352.57,384.90 L1350.83,384.90 L1349.09,384.90 L1347.35,384.90 L1345.62,384.90 L1343.88,384.90 L1342.14,384.90 L1340.41,384.90 L1338.67,384.90 L1336.93,384.90 L1335.20,384.90 L1333.46,384.90 L1331.72,384.90 L1329.98,384.90 L1328.25,384.90 L1326.51,384.90 L1324.77,384.90 L1323.04,384.90 L1321.30,384.90 L1319.56,384.90 L1317.82,384.90 L1316.09,384.90 L1314.35,384.90 L1312.61,384.90 L1310.88,384.90 L1309.14,384.90 L1307.40,384.90 L1305.67,384.90 L1303.93,384.90 L1302.19,384.90 L1300.45,384.90 L1298.72,384.90 L1296.98,384.90 L1295.24,384.90 L1293.51,384.90 L1291.77,384.90 L1290.03,384.90 L1288.29,384.90 L1286.56,384.90 L1284.82,384.90 L1283.08,384.90 L1281.35,384.90 L1279.61,384.90 L1277.87,384.90 L1276.14,384.90 L1274.40,384.90 L1272.66,384.90 L1270.92,384.90 L1269.19,384.90 L1267.45,384.90 L1265.71,384.90 L1263.98,384.90 L1262.24,384.90 L1260.50,384.90 L1258.77,384.90 L1257.03,384.90 L1255.29,384.90 L1253.55,384.90 L1251.82,384.90 L1250.08,384.90 L1248.34,384.90 L1246.61,384.90 L1244.87,384.90 L1243.13,384.90 L1241.39,384.90 L1239.66,384.90 L1237.92,384.90 L1236.18,384.90 L1234.45,384.90 L1232.71,384.90 L1230.97,384.90 L1229.24,384.90 L1227.50,384.90 L1225.76,384.90 L1224.02,384.90 L1222.29,384.90 L1220.55,384.90 Z" fill="#4bb45c" fill-opacity="0.250"/>
<polyline points="986.70,374.90 987.88,374.89 989.07,374.88 990.25,374.85 991.43,374.81 992.62,374.76 993.80,374.69 994.99,374.62 996.17,374.54 997.35,374.44 998.54,374.33 999.72,374.21 1000.90,374.08 1002.09,373.94 1003.27,373.79 1004.46,373.62 1005.64,373.45 1006.82,373.26 1008.01,373.06 1009.19,372.86 1010.37,372.64 1011.56,372.41 1012.74,372.17 1013.93,371.92 1015.11,371.65 1016.29,371.38 1017.48,371.10 1018.66,370.80 1019.84,370.50 1021.03,370.19 1022.21,369.86 1023.39,369.53 1024.58,369.18 1025.76,368.83 1026.95,368.46 1028.13,368.09 1029.31,367.70 1030.50,367.31 1031.68,366.91 1032.86,366.49 1034.05,366.07 1035.23,365.64 1036.42,365.20 1037.60,364.75 1038.78,364.29 1039.97,363.83 1041.15,363.35 1042.33,362.87 1043.52,362.37 1044.70,361.87 1045.89,361.36 1047.07,360.85 1048.25,360.32 1049.44,359.79 1050.62,359.25 1051.80,358.70 1052.99,358.14 1054.17,357.58 1055.36,357.01 1056.54,356.43 1057.72,355.85 1058.91,355.26 1060.09,354.66 1061.27,354.06 1062.46,353.45 1063.64,352.83 1064.82,352.21 1066.01,351.59 1067.19,350.95 1068.38,350.31 1069.56,349.67 1070.74,349.02 1071.93,348.37 1073.11,347.71 1074.29,347.05 1075.48,346.38 1076.66,345.71 1077.85,345.03 1079.03,344.35 1080.21,343.66 1081.40,342.98 1082.58,342.29 1083.76,341.59 1084.95,340.89 1086.13,340.19 1087.32,339.49 1088.50,338.78 1089.68,338.07 1090.87,337.36 1092.05,336.65 1093.23,335.93 1094.42,335.22 1095.60,334.50 1096.78,333.78 1097.97,333.06 1099.15,332.34 1100.34,331.61 1101.52,330.89 1102.70,330.17 1103.89,329.44 1105.07,328.72 1106.25,327.99 1107.44,327.27 1108.62,326.55 1109.81,325.82 1110.99,325.10 1112.17,324.38 1113.36,323.66 1114.54,322.94 1115.72,322.22 1116.91,321.51 1118.09,320.79 1119.28,320.08 1120.46,319.37 1121.64,318.66 1122.83,317.96 1124.01,317.26 1125.19,316.56 1126.38,315.86 1127.56,315.17 1128.75,314.48 1129.93,313.79 1131.11,313.11 1132.30,312.43 1133.48,311.76 1134.66,311.09 1135.85,310.42 1137.03,309.76 1138.21,309.10 1139.40,308.45 1140.58,307.81 1141.77,307.17 1142.95,306.53 1144.13,305.90 1145.32,305.28 1146.50,304.66 1147.68,304.04 1148.87,303.44 1150.05,302.84 1151.24,302.24 1152.42,301.66 1153.60,301.08 1154.79,300.50 1155.97,299.94 1157.15,299.38 1158.34,298.83 1159.52,298.28 1160.71,297.75 1161.89,297.22 1163.07,296.69 1164.26,296.18 1165.44,295.68 1166.62,295.18 1167.81,294.69 1168.99,294.21 1170.17,293.74 1171.36,293.28 1172.54,292.82 1173.73,292.38 1174.91,291.94 1176.09,291.52 1177.28,291.10 1178.46,290.69 1179.64,290.29 1180.83,289.90 1182.01,289.52 1183.20,289.15 1184.38,288.79 1185.56,288.44 1186.75,288.10 1187.93,287.77 1189.11,287.46 1190.30,287.15 1191.48,286.85 1192.67,286.56 1193.85,286.28 1195.03,286.01 1196.22,285.76 1197.40,285.51 1198.58,285.28 1199.77,285.05 1200.95,284.84 1202.14,284.64 1203.32,284.44 1204.50,284.26 1205.69,284.09 1206.87,283.94 1208.05,283.79 1209.24,283.65 1210.42,283.53 1211.60,283.41 1212.79,283.31 1213.97,283.22 1215.16,283.14 1216.34,283.07 1217.52,283.02 1218.71,282.97 1219.89,282.94 1221.07,282.91 1222.26,282.90 1223.44,282.90 1224.63,282.91 1225.81,282.94 1226.99,282.97 1228.18,283.02 1229.36,283.07 1230.54,283.14 1231.73,283.22 1232.91,283.31 1234.10,283.41 1235.28,283.53 1236.46,283.65 1237.65,283.79 1238.83,283.94 1240.01,284.09 1241.20,284.26 1242.38,284.44 1243.56,284.64 1244.75,284.84 1245.93,285.05 1247.12,285.28 1248.30,285.51 1249.48,285.76 1250.67,286.01 1251.85,286.28 1253.03,286.56 1254.22,286.85 1255.40,287.15 1256.59,287.46 1257.77,287.77 1258.95,288.10 1260.14,288.44 1261.32,288.79 1262.50,289.15 1263.69,289.52 1264.87,289.90 1266.06,290.29 1267.24,290.69 1268.42,291.10 1269.61,291.52 1270.79,291.94 1271.97,292.38 1273.16,292.82 1274.34,293.28 1275.53,293.74 1276.71,294.21 1277.89,294.69 1279.08,295.18 1280.26,295.68 1281.44,296.18 1282.63,296.69 1283.81,297.22 1284.99,297.75 1286.18,298.28 1287.36,298.83 1288.55,299.38 1289.73,299.94 1290.91,300.50 1292.10,301.08 1293.28,301.66 1294.46,302.24 1295.65,302.84 1296.83,303.44 1298.02,304.04 1299.20,304.66 1300.38,305.28 1301.57,305.90 1302.75,306.53 1303.93,307.17 1305.12,307.81 1306.30,308.45 1307.49,309.10 1308.67,309.76 1309.85,310.42 1311.04,311.09 1312.22,311.76 1313.40,312.43 1314.59,313.11 1315.77,313.79 1316.95,314.48 1318.14,315.17 1319.32,315.86 1320.51,316.56 1321.69,317.26 1322.87,317.96 1324.06,318.66 1325.24,319.37 1326.42,320.08 1327.61,320.79 1328.79,321.51 1329.98,322.22 1331.16,322.94 1332.34,323.66 1333.53,324.38 1334.71,325.10 1335.89,325.82 1337.08,326.55 1338.26,327.27 1339.45,327.99 1340.63,328.72 1341.81,329.44 1343.00,330.17 1344.18,330.89 1345.36,331.61 1346.55,332.34 1347.73,333.06 1348.92,333.78 1350.10,334.50 1351.28,335.22 1352.47,335.93 1353.65,336.65 1354.83,337.36 1356.02,338.07 1357.20,338.78 1358.38,339.49 1359.57,340.19 1360.75,340.89 1361.94,341.59 1363.12,342.29 1364.30,342.98 1365.49,343.66 1366.67,344.35 1367.85,345.03 1369.04,345.71 1370.22,346.38 1371.41,347.05 1372.59,347.71 1373.77,348.37 1374.96,349.02 1376.14,349.67 1377.32,350.31 1378.51,350.95 1379.69,351.59 1380.88,352.21 1382.06,352.83 1383.24,353.45 1384.43,354.06 1385.61,354.66 1386.79,355.26 1387.98,355.85 1389.16,356.43 1390.34,357.01 1391.53,357.58 1392.71,358.14 1393.90,358.70 1395.08,359.25 1396.26,359.79 1397.45,360.32 1398.63,360.85 1399.81,361.36 1401.00,361.87 1402.18,362.37 1403.37,362.87 1404.55,363.35 1405.73,363.83 1406.92,364.29 1408.10,364.75 1409.28,365.20 1410.47,365.64 1411.65,366.07 1412.84,366.49 1414.02,366.91 1415.20,367.31 1416.39,367.70 1417.57,368.09 1418.75,368.46 1419.94,368.83 1421.12,369.18 1422.31,369.53 1423.49,369.86 1424.67,370.19 1425.86,370.50 1427.04,370.80 1428.22,371.10 1429.41,371.38 1430.59,371.65 1431.77,371.92 1432.96,372.17 1434.14,372.41 1435.33,372.64 1436.51,372.86 1437.69,373.06 1438.88,373.26 1440.06,373.45 1441.24,373.62 1442.43,373.79 1443.61,373.94 1444.80,374.08 1445.98,374.21 1447.16,374.33 1448.35,374.44 1449.53,374.54 1450.71,374.62 1451.90,374.69 1453.08,374.76 1454.27,374.81 1455.45,374.85 1456.63,374.88 1457.82,374.89 1459.00,374.90" fill="none" stroke="#00199c" stroke-width="6.80" stroke-dasharray="25.0 10.83" stroke-linejoin="round"/>
<line x1="986.70" y1="328.90" x2="1459.00" y2="328.90" stroke="#ecc05a" stroke-width="6.80" stroke-dasharray="6.76 11.12"/>
<polyline points="986.70,328.90 987.88,328.89 989.07,328.88 990.25,328.85 991.43,328.81 992.62,328.76 993.80,328.69 994.99,328.62 996.17,328.54 997.35,328.44 998.54,328.33 999.72,328.21 1000.90,328.08 1002.09,327.94 1003.27,327.79 1004.46,327.62 1005.64,327.45 1006.82,327.26 1008.01,327.06 1009.19,326.86 1010.37,326.64 1011.56,326.41 1012.74,326.17 1013.93,325.92 1015.11,325.65 1016.29,325.38 1017.48,325.10 1018.66,324.80 1019.84,324.50 1021.03,324.19 1022.21,323.86 1023.39,323.53 1024.58,323.18 1025.76,322.83 1026.95,322.46 1028.13,322.09 1029.31,321.70 1030.50,321.31 1031.68,320.91 1032.86,320.49 1034.05,320.07 1035.23,319.64 1036.42,319.20 1037.60,318.75 1038.78,318.29 1039.97,317.83 1041.15,317.35 1042.33,316.87 1043.52,316.37 1044.70,315.87 1045.89,315.36 1047.07,314.85 1048.25,314.32 1049.44,313.79 1050.62,313.25 1051.80,312.70 1052.99,312.14 1054.17,311.58 1055.36,311.01 1056.54,310.43 1057.72,309.85 1058.91,309.26 1060.09,308.66 1061.27,308.06 1062.46,307.45 1063.64,306.83 1064.82,306.21 1066.01,305.59 1067.19,304.95 1068.38,304.31 1069.56,303.67 1070.74,303.02 1071.93,302.37 1073.11,301.71 1074.29,301.05 1075.48,300.38 1076.66,299.71 1077.85,299.03 1079.03,298.35 1080.21,297.66 1081.40,296.98 1082.58,296.29 1083.76,295.59 1084.95,294.89 1086.13,294.19 1087.32,293.49 1088.50,292.78 1089.68,292.07 1090.87,291.36 1092.05,290.65 1093.23,289.93 1094.42,289.22 1095.60,288.50 1096.78,287.78 1097.97,287.06 1099.15,286.34 1100.34,285.61 1101.52,284.89 1102.70,284.17 1103.89,283.44 1105.07,282.72 1106.25,281.99 1107.44,281.27 1108.62,280.55 1109.81,279.82 1110.99,279.10 1112.17,278.38 1113.36,277.66 1114.54,276.94 1115.72,276.22 1116.91,275.51 1118.09,274.79 1119.28,274.08 1120.46,273.37 1121.64,272.66 1122.83,271.96 1124.01,271.26 1125.19,270.56 1126.38,269.86 1127.56,269.17 1128.75,268.48 1129.93,267.79 1131.11,267.11 1132.30,266.43 1133.48,265.76 1134.66,265.09 1135.85,264.42 1137.03,263.76 1138.21,263.10 1139.40,262.45 1140.58,261.81 1141.77,261.17 1142.95,260.53 1144.13,259.90 1145.32,259.28 1146.50,258.66 1147.68,258.04 1148.87,257.44 1150.05,256.84 1151.24,256.24 1152.42,255.66 1153.60,255.08 1154.79,254.50 1155.97,253.94 1157.15,253.38 1158.34,252.83 1159.52,252.28 1160.71,251.75 1161.89,251.22 1163.07,250.69 1164.26,250.18 1165.44,249.68 1166.62,249.18 1167.81,248.69 1168.99,248.21 1170.17,247.74 1171.36,247.28 1172.54,246.82 1173.73,246.38 1174.91,245.94 1176.09,245.52 1177.28,245.10 1178.46,244.69 1179.64,244.29 1180.83,243.90 1182.01,243.52 1183.20,243.15 1184.38,242.79 1185.56,242.44 1186.75,242.10 1187.93,241.77 1189.11,241.46 1190.30,241.15 1191.48,240.85 1192.67,240.56 1193.85,240.28 1195.03,240.01 1196.22,239.76 1197.40,239.51 1198.58,239.28 1199.77,239.05 1200.95,238.84 1202.14,238.64 1203.32,238.44 1204.50,238.26 1205.69,238.09 1206.87,237.94 1208.05,237.79 1209.24,237.65 1210.42,237.53 1211.60,237.41 1212.79,237.31 1213.97,237.22 1215.16,237.14 1216.34,237.07 1217.52,237.02 1218.71,236.97 1219.89,236.94 1221.07,236.91 1222.26,236.90 1223.44,236.90 1224.63,236.91 1225.81,236.94 1226.99,236.97 1228.18,237.02 1229.36,237.07 1230.54,237.14 1231.73,237.22 1232.91,237.31 1234.10,237.41 1235.28,237.53 1236.46,237.65 1237.65,237.79 1238.83,237.94 1240.01,238.09 1241.20,238.26 1242.38,238.44 1243.56,238.64 1244.75,238.84 1245.93,239.05 1247.12,239.28 1248.30,239.51 1249.48,239.76 1250.67,240.01 1251.85,240.28 1253.03,240.56 1254.22,240.85 1255.40,241.15 1256.59,241.46 1257.77,241.77 1258.95,242.10 1260.14,242.44 1261.32,242.79 1262.50,243.15 1263.69,243.52 1264.87,243.90 1266.06,244.29 1267.24,244.69 1268.42,245.10 1269.61,245.52 1270.79,245.94 1271.97,246.38 1273.16,246.82 1274.34,247.28 1275.53,247.74 1276.71,248.21 1277.89,248.69 1279.08,249.18 1280.26,249.68 1281.44,250.18 1282.63,250.69 1283.81,251.22 1284.99,251.75 1286.18,252.28 1287.36,252.83 1288.55,253.38 1289.73,253.94 1290.91,254.50 1292.10,255.08 1293.28,255.66 1294.46,256.24 1295.65,256.84 1296.83,257.44 1298.02,258.04 1299.20,258.66 1300.38,259.28 1301.57,259.90 1302.75,260.53 1303.93,261.17 1305.12,261.81 1306.30,262.45 1307.49,263.10 1308.67,263.76 1309.85,264.42 1311.04,265.09 1312.22,265.76 1313.40,266.43 1314.59,267.11 1315.77,267.79 1316.95,268.48 1318.14,269.17 1319.32,269.86 1320.51,270.56 1321.69,271.26 1322.87,271.96 1324.06,272.66 1325.24,273.37 1326.42,274.08 1327.61,274.79 1328.79,275.51 1329.98,276.22 1331.16,276.94 1332.34,277.66 1333.53,278.38 1334.71,279.10 1335.89,279.82 1337.08,280.55 1338.26,281.27 1339.45,281.99 1340.63,282.72 1341.81,283.44 1343.00,284.17 1344.18,284.89 1345.36,285.61 1346.55,286.34 1347.73,287.06 1348.92,287.78 1350.10,288.50 1351.28,289.22 1352.47,289.93 1353.65,290.65 1354.83,291.36 1356.02,292.07 1357.20,292.78 1358.38,293.49 1359.57,294.19 1360.75,294.89 1361.94,295.59 1363.12,296.29 1364.30,296.98 1365.49,297.66 1366.67,298.35 1367.85,299.03 1369.04,299.71 1370.22,300.38 1371.41,301.05 1372.59,301.71 1373.77,302.37 1374.96,303.02 1376.14,303.67 1377.32,304.31 1378.51,304.95 1379.69,305.59 1380.88,306.21 1382.06,306.83 1383.24,307.45 1384.43,308.06 1385.61,308.66 1386.79,309.26 1387.98,309.85 1389.16,310.43 1390.34,311.01 1391.53,311.58 1392.71,312.14 1393.90,312.70 1395.08,313.25 1396.26,313.79 1397.45,314.32 1398.63,314.85 1399.81,315.36 1401.00,315.87 1402.18,316.37 1403.37,316.87 1404.55,317.35 1405.73,317.83 1406.92,318.29 1408.10,318.75 1409.28,319.20 1410.47,319.64 1411.65,320.07 1412.84,320.49 1414.02,320.91 1415.20,321.31 1416.39,321.70 1417.57,322.09 1418.75,322.46 1419.94,322.83 1421.12,323.18 1422.31,323.53 1423.49,323.86 1424.67,324.19 1425.86,324.50 1427.04,324.80 1428.22,325.10 1429.41,325.38 1430.59,325.65 1431.77,325.92 1432.96,326.17 1434.14,326.41 1435.33,326.64 1436.51,326.86 1437.69,327.06 1438.88,327.26 1440.06,327.45 1441.24,327.62 1442.43,327.79 1443.61,327.94 1444.80,328.08 1445.98,328.21 1447.16,328.33 1448.35,328.44 1449.53,328.54 1450.71,328.62 1451.90,328.69 1453.08,328.76 1454.27,328.81 1455.45,328.85 1456.63,328.88 1457.82,328.89 1459.00,328.90" fill="none" stroke="#4bb45c" stroke-width="6.80" stroke-linejoin="round"/>
</g>
<rect x="986.70" y="83.00" width="472.30" height="291.90" fill="none" stroke="#000" stroke-width="4.20" stroke-linejoin="miter"/>
<line x1="986.70" y1="374.90" x2="986.70" y2="390.70" stroke="#000" stroke-width="4.20"/>
<line x1="1104.78" y1="374.90" x2="1104.78" y2="390.70" stroke="#000" stroke-width="4.20"/>
<line x1="1222.85" y1="374.90" x2="1222.85" y2="390.70" stroke="#000" stroke-width="4.20"/>
<line x1="1340.92" y1="374.90" x2="1340.92" y2="390.70" stroke="#000" stroke-width="4.20"/>
<line x1="1459.00" y1="374.90" x2="1459.00" y2="390.70" stroke="#000" stroke-width="4.20"/>
<rect x="1500.9" y="156.1" width="201.5" height="210.5" rx="6.7" ry="6.7" fill="#fff" fill-opacity="0.8" stroke="#d4d4d4" stroke-width="4.2"/>
<line x1="1519" y1="190.1" x2="1564" y2="190.1" stroke="#00199c" stroke-width="6.80" stroke-dasharray="25.0 10.83"/>
<line x1="1519" y1="257.3" x2="1564" y2="257.3" stroke="#ecc05a" stroke-width="6.80" stroke-dasharray="6.76 11.12"/>
<line x1="1515.4" y1="321.8" x2="1567.4" y2="321.8" stroke="#4bb45c" stroke-width="7.1"/>
<text id="mzi" transform="translate(815.356 146.195) scale(1.0226 1.0382)" font-family="'Liberation Serif', 'DejaVu Serif', serif" font-size="46" style="" fill="#000" stroke="#fff" stroke-width="0.30">MZI</text>
<text id="nli" transform="translate(1353.329 146.195) scale(1.0370 1.0382)" font-family="'Liberation Serif', 'DejaVu Serif', serif" font-size="46" style="" fill="#000" stroke="#fff" stroke-width="0.30">NLI</text>
<text id="ylab" transform="translate(425.565 381.896) rotate(-90) scale(1.0797 0.9428)" font-family="'Liberation Serif', 'DejaVu Serif', serif" font-size="46" style="" fill="#000" stroke="#fff" stroke-width="0.30">Photon number</text>
<text id="tkb00" transform="translate(440.700 439.183) scale(1.0429 1.0261)" font-family="'Liberation Serif', 'DejaVu Serif', serif" font-size="46" style="" fill="#000" stroke="#fff" stroke-width="0.30">0</text>
<text id="tkb20" transform="translate(675.662 437.832) scale(1.0844 0.9581)" font-family="'Liberation Serif', 'DejaVu Serif', serif" font-size="46" style="font-style:italic;" fill="#000" stroke="#fff" stroke-width="0.60">π</text>
<text id="xlb" transform="translate(674.755 500.381) scale(1.1883 0.9656)" font-family="'Liberation Serif', 'DejaVu Serif', serif" font-size="46" style="font-style:italic;" fill="#000" stroke="#fff" stroke-width="0.60">ϕ</text>
<text id="tkc00" transform="translate(974.914 439.183) scale(1.0429 1.0261)" font-family="'Liberation Serif', 'DejaVu Serif', serif" font-size="46" style="" fill="#000" stroke="#fff" stroke-width="0.30">0</text>
<text id="tkc20" transform="translate(1209.921 437.832) scale(1.0788 0.9581)" font-family="'Liberation Serif', 'DejaVu Serif', serif" font-size="46" style="font-style:italic;" fill="#000" stroke="#fff" stroke-width="0.60">π</text>
<text id="xlc" transform="translate(1209.951 500.381) scale(1.1388 0.9656)" font-family="'Liberation Serif', 'DejaVu Serif', serif" font-size="46" style="font-style:italic;" fill="#000" stroke="#fff" stroke-width="0.60">ϕ</text>
<text font-family="'Liberation Serif', 'DejaVu Serif', serif"><tspan x="36.599" y="148.206" font-size="52.190" textLength="13.843" lengthAdjust="spacingAndGlyphs" fill="#000" stroke="#fff" stroke-width="0.31">(</tspan><tspan x="51.723" y="146.599" font-size="46.259" textLength="23.960" lengthAdjust="spacingAndGlyphs" fill="#000" stroke="#fff" stroke-width="0.33">a</tspan><tspan x="75.649" y="148.206" font-size="52.190" textLength="14.628" lengthAdjust="spacingAndGlyphs" fill="#000" stroke="#fff" stroke-width="0.31">)</tspan></text>
<text font-family="'Liberation Serif', 'DejaVu Serif', serif"><tspan x="484.775" y="148.206" font-size="52.190" textLength="14.051" lengthAdjust="spacingAndGlyphs" fill="#000" stroke="#fff" stroke-width="0.31">(</tspan><tspan x="501.345" y="147.209" font-size="45.770" textLength="25.318" lengthAdjust="spacingAndGlyphs" fill="#000" stroke="#fff" stroke-width="0.31">b</tspan><tspan x="526.661" y="148.206" font-size="52.190" textLength="14.437" lengthAdjust="spacingAndGlyphs" fill="#000" stroke="#fff" stroke-width="0.31">)</tspan></text>
<text font-family="'Liberation Serif', 'DejaVu Serif', serif"><tspan x="1020.603" y="148.206" font-size="52.190" textLength="13.671" lengthAdjust="spacingAndGlyphs" fill="#000" stroke="#fff" stroke-width="0.30">(</tspan><tspan x="1034.929" y="147.184" font-size="45.592" textLength="21.151" lengthAdjust="spacingAndGlyphs" fill="#000" stroke="#fff" stroke-width="0.30">c</tspan><tspan x="1055.729" y="147.981" font-size="53.376" textLength="15.456" lengthAdjust="spacingAndGlyphs" fill="#000" stroke="#fff" stroke-width="0.33">)</tspan></text>
<text font-family="'DejaVu Serif', 'Liberation Serif', serif"><tspan x="227.137" y="151.867" font-size="52.618" textLength="23.325" lengthAdjust="spacingAndGlyphs" fill="#00199c" stroke="#fff" stroke-width="1.95">⟨</tspan><tspan x="245.574" y="146.000" font-size="39.045" textLength="27.895" lengthAdjust="spacingAndGlyphs" font-family="'Liberation Serif', 'DejaVu Serif', serif" font-style="italic" fill="#00199c" stroke="#fff" stroke-width="0.62">n</tspan><tspan x="252.127" y="142.498" font-size="38.468" textLength="13.381" lengthAdjust="spacingAndGlyphs" font-family="'Liberation Serif', 'DejaVu Serif', serif" fill="#00199c" stroke="#fff" stroke-width="0.26">ˆ</tspan><tspan x="272.496" y="152.626" font-size="33.275" textLength="14.507" lengthAdjust="spacingAndGlyphs" font-family="'Liberation Serif', 'DejaVu Serif', serif" fill="#00199c" stroke="#fff" stroke-width="0.25">I</tspan><tspan x="285.433" y="151.867" font-size="52.618" textLength="21.995" lengthAdjust="spacingAndGlyphs" fill="#00199c" stroke="#fff" stroke-width="1.90">⟩</tspan></text>
<text font-family="'DejaVu Serif', 'Liberation Serif', serif"><tspan x="66.750" y="299.060" font-size="52.494" textLength="22.441" lengthAdjust="spacingAndGlyphs" fill="#ecc05a" stroke="#fff" stroke-width="1.91">⟨</tspan><tspan x="83.669" y="294.395" font-size="44.931" textLength="30.035" lengthAdjust="spacingAndGlyphs" font-family="'Liberation Serif', 'DejaVu Serif', serif" font-style="italic" fill="#ecc05a" stroke="#fff" stroke-width="0.68">n</tspan><tspan x="92.133" y="294.939" font-size="45.644" textLength="13.284" lengthAdjust="spacingAndGlyphs" font-family="'Liberation Serif', 'DejaVu Serif', serif" fill="#ecc05a" stroke="#fff" stroke-width="0.28">ˆ</tspan><tspan x="108.661" y="299.060" font-size="52.494" textLength="21.775" lengthAdjust="spacingAndGlyphs" fill="#ecc05a" stroke="#fff" stroke-width="1.88">⟩</tspan></text>
<text font-family="'Liberation Serif', 'DejaVu Serif', serif"><tspan x="230.328" y="375.000" font-size="46.447" textLength="35.869" lengthAdjust="spacingAndGlyphs" font-style="italic" fill="#4bb45c" stroke="#fff" stroke-width="0.65">N</tspan><tspan x="271.792" y="376.555" font-size="50.794" textLength="14.787" lengthAdjust="spacingAndGlyphs" fill="#4bb45c" stroke="#fff" stroke-width="0.31">(</tspan><tspan x="287.402" y="374.289" font-size="45.745" textLength="27.949" lengthAdjust="spacingAndGlyphs" font-style="italic" fill="#4bb45c" stroke="#fff" stroke-width="0.65">ϕ</tspan><tspan x="314.950" y="375.645" font-size="50.825" textLength="14.051" lengthAdjust="spacingAndGlyphs" fill="#4bb45c" stroke="#fff" stroke-width="0.30">)</tspan></text>
<text font-family="'Liberation Serif', 'DejaVu Serif', serif"><tspan x="1581.100" y="206.398" font-size="44.470" textLength="27.148" lengthAdjust="spacingAndGlyphs" font-style="italic" fill="#000" stroke="#fff" stroke-width="0.64">n</tspan><tspan x="1610.147" y="211.722" font-size="30.314" textLength="20.319" lengthAdjust="spacingAndGlyphs" font-style="italic" fill="#000" stroke="#fff" stroke-width="0.45">ϕ</tspan></text>
<text font-family="'Liberation Serif', 'DejaVu Serif', serif"><tspan x="1581.929" y="272.793" font-size="45.811" textLength="28.691" lengthAdjust="spacingAndGlyphs" font-style="italic" fill="#000" stroke="#fff" stroke-width="0.67">n</tspan><tspan x="1609.861" y="278.700" font-size="27.681" textLength="19.123" lengthAdjust="spacingAndGlyphs" fill="#000" stroke="#fff" stroke-width="0.21">n</tspan></text>
<text font-family="'Liberation Serif', 'DejaVu Serif', serif"><tspan x="1583.736" y="338.000" font-size="46.754" textLength="36.180" lengthAdjust="spacingAndGlyphs" font-style="italic" fill="#000" stroke="#fff" stroke-width="0.66">N</tspan><tspan x="1625.646" y="339.028" font-size="49.818" textLength="13.298" lengthAdjust="spacingAndGlyphs" fill="#000" stroke="#fff" stroke-width="0.29">(</tspan><tspan x="1640.306" y="337.781" font-size="44.415" textLength="28.044" lengthAdjust="spacingAndGlyphs" font-style="italic" fill="#000" stroke="#fff" stroke-width="0.64">ϕ</tspan><tspan x="1667.973" y="339.028" font-size="49.818" textLength="13.671" lengthAdjust="spacingAndGlyphs" fill="#000" stroke="#fff" stroke-width="0.30">)</tspan></text>
<text font-family="'Liberation Serif', 'DejaVu Serif', serif"><tspan x="534.966" y="440.579" font-size="44.277" textLength="24.261" lengthAdjust="spacingAndGlyphs" font-style="italic" fill="#000" stroke="#fff" stroke-width="0.60">π</tspan><tspan x="565.446" y="450.762" font-size="67.668" textLength="13.396" lengthAdjust="spacingAndGlyphs" font-style="italic" fill="#000" stroke="#fff" stroke-width="0.76">/</tspan><tspan x="583.591" y="439.819" font-size="44.121" textLength="23.146" lengthAdjust="spacingAndGlyphs" fill="#000" stroke="#fff" stroke-width="0.29">2</tspan></text>
<text font-family="'Liberation Serif', 'DejaVu Serif', serif"><tspan x="758.045" y="441.000" font-size="46.000" textLength="24.483" lengthAdjust="spacingAndGlyphs" fill="#000" stroke="#fff" stroke-width="0.31">3</tspan><tspan x="782.502" y="440.024" font-size="44.931" textLength="24.393" lengthAdjust="spacingAndGlyphs" font-style="italic" fill="#000" stroke="#fff" stroke-width="0.61">π</tspan><tspan x="813.271" y="450.762" font-size="67.668" textLength="13.619" lengthAdjust="spacingAndGlyphs" font-style="italic" fill="#000" stroke="#fff" stroke-width="0.76">/</tspan><tspan x="831.188" y="439.791" font-size="46.224" textLength="22.689" lengthAdjust="spacingAndGlyphs" fill="#000" stroke="#fff" stroke-width="0.30">2</tspan></text>
<text font-family="'Liberation Serif', 'DejaVu Serif', serif"><tspan x="900.492" y="437.426" font-size="44.566" textLength="23.896" lengthAdjust="spacingAndGlyphs" fill="#000" stroke="#fff" stroke-width="0.30">2</tspan><tspan x="923.371" y="437.815" font-size="44.470" textLength="23.750" lengthAdjust="spacingAndGlyphs" font-style="italic" fill="#000" stroke="#fff" stroke-width="0.60">π</tspan></text>
<text font-family="'Liberation Serif', 'DejaVu Serif', serif"><tspan x="1069.090" y="440.579" font-size="44.277" textLength="24.388" lengthAdjust="spacingAndGlyphs" font-style="italic" fill="#000" stroke="#fff" stroke-width="0.61">π</tspan><tspan x="1099.731" y="450.762" font-size="67.668" textLength="14.092" lengthAdjust="spacingAndGlyphs" font-style="italic" fill="#000" stroke="#fff" stroke-width="0.77">/</tspan><tspan x="1117.632" y="439.819" font-size="44.121" textLength="24.432" lengthAdjust="spacingAndGlyphs" fill="#000" stroke="#fff" stroke-width="0.30">2</tspan></text>
<text font-family="'Liberation Serif', 'DejaVu Serif', serif"><tspan x="1292.241" y="441.000" font-size="46.000" textLength="24.483" lengthAdjust="spacingAndGlyphs" fill="#000" stroke="#fff" stroke-width="0.31">3</tspan><tspan x="1316.757" y="440.024" font-size="44.931" textLength="24.351" lengthAdjust="spacingAndGlyphs" font-style="italic" fill="#000" stroke="#fff" stroke-width="0.61">π</tspan><tspan x="1347.482" y="450.762" font-size="67.668" textLength="13.657" lengthAdjust="spacingAndGlyphs" font-style="italic" fill="#000" stroke="#fff" stroke-width="0.76">/</tspan><tspan x="1365.406" y="439.791" font-size="46.224" textLength="22.689" lengthAdjust="spacingAndGlyphs" fill="#000" stroke="#fff" stroke-width="0.30">2</tspan></text>
<text font-family="'Liberation Serif', 'DejaVu Serif', serif"><tspan x="1434.683" y="437.426" font-size="44.566" textLength="23.963" lengthAdjust="spacingAndGlyphs" fill="#000" stroke="#fff" stroke-width="0.30">2</tspan><tspan x="1457.567" y="437.815" font-size="44.470" textLength="23.791" lengthAdjust="spacingAndGlyphs" font-style="italic" fill="#000" stroke="#fff" stroke-width="0.60">π</tspan></text>
</svg></body></html>
